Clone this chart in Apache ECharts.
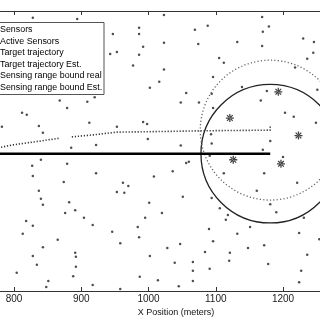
<!DOCTYPE html>
<html><head><meta charset="utf-8">
<script src="https://cdn.jsdelivr.net/npm/echarts@6/dist/echarts.min.js"></script>
<style>html,body{margin:0;padding:0;background:#fff}#c{width:320px;height:320px}</style>
</head><body><div id="c"></div>
<script>
// ---- data (meters) ----
const sensors = [
  [828,406],[894,404],[947,382],[986,391],[986,382],[953,355],[943,352],[992,363],[986,351],[977,335],[1016,311],[1002,302],[920,288],[909,281],[868,283],[879,272],[812,265],[819,262],[837,245],[912,250],[953,244],[992,251],[998,248],[782,244],
  [1023,410],[1169,407],[1088,394],[1069,388],[1179,393],[1170,385],[1023,369],[1074,367],[1132,370],[1169,364],[1230,375],[1246,370],[1023,329],[1105,346],[1112,339],[1245,354],[1236,345],[1218,332],[1096,318],[1139,303],[1056,294],[1094,293],[1048,280],[1075,280],[1167,283],[1176,297],[1251,299],[1096,272],[1203,265],[1216,259],[1249,250],
  [843,235],[922,217],[885,213],[999,226],[1048,216],[1094,219],[1181,223],[1093,233],[1170,210],[1091,201],[1200,199],
  [827,186],[879,189],[840,195],[828,171],[922,175],[874,162],[962,161],[970,156],[953,147],[964,146],[1008,170],[837,149],[840,137],[843,128],[882,132],[891,120],[876,116],[904,109],[1001,131],[995,109],[818,104],[828,97],[917,98],[984,95],[946,88],[986,80],[813,85],[865,76],[958,71],[843,65],[891,57],[828,52],[892,51],[1002,52],
  [1056,190],[1060,192],[1036,178],[1112,175],[1172,175],[1221,161],[1051,140],[1094,138],[1161,149],[1181,129],[1190,117],[1106,123],[1020,116],[1118,113],[1115,106],[1090,92],[1151,95],[1132,85],[1224,86],[1096,74],[1047,70],[1172,68],[1148,64],[1084,58],[1236,54],[1231,109],[1028,64],[1121,57],[1254,77],
  [834,39],[892,36],[804,27],[888,22],[851,15],[848,6],[917,9],[958,3],[987,21],[1014,16],[1039,42],[1066,30],[1066,15],[1045,7],[1091,33],[1120,45],[1178,40],[1227,30],[1224,13],[1066,43]
];
const activeSensors = [[1121,257],[1193,296],[1223,231],[1126,195],[1197,189]];
const trajectory = [[700,204],[1181,204]];
const trajectoryEst = [[772,212],[798,217],[868,227],[877,'-'],[886,229],[918,232],[953,236],[1022,237],[1077,238],[1181,239],[1181,245]];
const rangeReal = [[1181,204,103]];   // center x, center y, radius
const rangeEst  = [[1181,239,104]];
const legendLabels = ['Sensors','Active Sensors','Target trajectory','Target trajectory Est.','Sensing range bound real','Sensing range bound Est.'];
const xTitle = 'X Position (meters)';
const xMin = 700, xMax = 1300, xStep = 100;
const yMin = 0, yMax = 416;

const FONT = 'Liberation Sans, Arial, sans-serif';
const starPath = 'path://M-0.8,-5 L0.8,-5 L0.8,5 L-0.8,5 Z M-5,-0.8 L5,-0.8 L5,0.8 L-5,0.8 Z M-4.1,-3 L3,4.1 L4.1,3 L-3,-4.1 Z M3,-4.1 L4.1,-3 L-3,4.1 L-4.1,3 Z';

function circleItem(color, width, dash) {
  return function (params, api) {
    const c = api.coord([api.value(0), api.value(1)]);
    const r = api.size([api.value(2), 0])[0];
    return { type: 'circle', shape: { cx: c[0], cy: c[1], r: r },
      style: { fill: 'none', stroke: color, lineWidth: width, lineDash: dash } };
  };
}

const legendGraphics = [{
  type: 'rect', z: 100, shape: { x: -2, y: 22.5, width: 106, height: 72 },
  style: { fill: '#fff', stroke: '#555', lineWidth: 1 }
}];
legendLabels.forEach((t, i) => legendGraphics.push({
  type: 'text', z: 101, x: 0, y: 30 + i * 11.5,
  style: { text: t, fill: '#000', font: '8.9px ' + FONT, textVerticalAlign: 'middle', textAlign: 'left' }
}));
legendGraphics.push({
  type: 'text', z: 101, x: 176, y: 313,
  style: { text: xTitle, fill: '#111', font: '9px ' + FONT, textAlign: 'center', textVerticalAlign: 'middle' }
});

const chart = echarts.init(document.getElementById('c'), null, { renderer: 'canvas' });
chart.setOption({
  animation: false,
  backgroundColor: '#fff',
  grid: { left: -53.25, width: 403.5, top: 11, bottom: 29, containLabel: false, outerBoundsMode: 'none' },
  xAxis: [{
    type: 'value', min: xMin, max: xMax, interval: xStep, position: 'bottom',
    axisLine: { show: true, onZero: false, lineStyle: { color: '#333', width: 1 } },
    axisTick: { show: true, inside: true, length: 4, lineStyle: { color: '#333' } },
    axisLabel: { fontSize: 10, color: '#222', margin: 3, fontFamily: 'Liberation Sans Narrow, ' + FONT,
                 formatter: v => String(v), hideOverlap: false },
    splitLine: { show: false }
  }, {
    type: 'value', min: xMin, max: xMax, interval: xStep, position: 'top',
    axisLine: { show: true, onZero: false, lineStyle: { color: '#333', width: 1 } },
    axisTick: { show: true, inside: true, length: 4, lineStyle: { color: '#333' } },
    axisLabel: { show: false }, splitLine: { show: false }
  }],
  yAxis: { type: 'value', min: yMin, max: yMax, show: false },
  graphic: legendGraphics,
  series: [
    { name: 'Sensors', type: 'scatter', data: sensors, symbol: 'circle', symbolSize: 2.5,
      itemStyle: { color: '#222' }, z: 2 },
    { name: 'Active Sensors', type: 'scatter', data: activeSensors, symbol: starPath, symbolSize: 8,
      itemStyle: { color: '#111' }, z: 4 },
    { name: 'Target trajectory', type: 'line', data: trajectory, showSymbol: false,
      lineStyle: { color: '#000', width: 2.5 }, z: 3 },
    { name: 'Target trajectory Est.', type: 'line', data: trajectoryEst, showSymbol: false, connectNulls: false,
      lineStyle: { color: '#333', width: 1.6, type: [1.2, 1.8] }, z: 3 },
    { name: 'Sensing range bound real', type: 'custom', data: rangeReal, renderItem: circleItem('#222', 1.3, null), z: 3 },
    { name: 'Sensing range bound Est.', type: 'custom', data: rangeEst, renderItem: circleItem('#666', 1.3, [1.2, 2.2]), z: 3 }
  ]
});
</script></body></html>
